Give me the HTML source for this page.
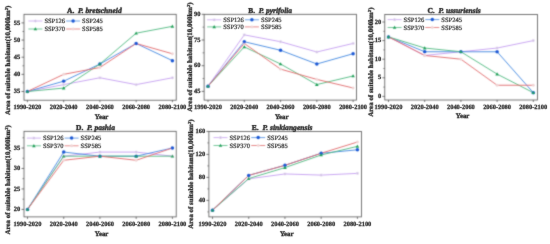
<!DOCTYPE html>
<html><head><meta charset="utf-8"><style>
html,body{margin:0;padding:0;background:#fff;}
svg{display:block;text-rendering:geometricPrecision;}
text{font-family:"Liberation Serif","Times New Roman",serif;fill:#262626;stroke:#262626;stroke-width:0.25px;}
.tk{font-size:6.45px;font-weight:bold;stroke-width:0.25px;}
.lg{font-size:6.5px;stroke-width:0.2px;}
.ti{font-size:7.5px;font-weight:bold;white-space:pre;stroke-width:0.4px;}
.yl{font-size:6.95px;font-weight:bold;stroke-width:0.3px;}
.sup{font-size:4.52px;}
.yr{font-size:6.8px;font-weight:bold;stroke-width:0.35px;}
</style></head><body>
<svg width="550" height="244" viewBox="0 0 550 244">
<defs><filter id="soft" filterUnits="userSpaceOnUse" x="0" y="0" width="550" height="244"><feConvolveMatrix order="3" kernelMatrix="0.0256 0.1088 0.0256 0.1088 0.4624 0.1088 0.0256 0.1088 0.0256" divisor="1" edgeMode="none" preserveAlpha="false"/></filter><filter id="softt" filterUnits="userSpaceOnUse" x="0" y="0" width="550" height="244"><feConvolveMatrix order="3" kernelMatrix="0.0036 0.0528 0.0036 0.0528 0.7744 0.0528 0.0036 0.0528 0.0036" divisor="1" edgeMode="none" preserveAlpha="false"/></filter></defs>
<rect width="550" height="244" fill="#fff"/>
<g filter="url(#soft)">
<polyline points="27.40,91.50 63.65,84.64 99.90,77.78 136.15,84.64 172.40,77.78" fill="none" stroke="#c49ef0" stroke-width="0.9"/>
<polyline points="27.40,91.50 63.65,81.21 99.90,64.06 136.15,43.48 172.40,60.63" fill="none" stroke="#3f86e0" stroke-width="0.9"/>
<polyline points="27.40,91.50 63.65,88.07 99.90,64.06 136.15,33.19 172.40,26.33" fill="none" stroke="#4cb87e" stroke-width="0.9"/>
<polyline points="27.40,91.50 63.65,74.35 99.90,67.49 136.15,43.48 172.40,53.77" fill="none" stroke="#e0686a" stroke-width="0.9"/>
<circle cx="27.40" cy="91.50" r="1.30" fill="#f4f0f8"/><path d="M25.90,91.50H28.90M27.40,90.00V93.00M26.30,90.40L28.50,92.60M26.30,92.60L28.50,90.40" stroke="#c9b4e0" stroke-width="0.5" fill="none"/>
<circle cx="63.65" cy="84.64" r="1.30" fill="#f4f0f8"/><path d="M62.15,84.64H65.15M63.65,83.14V86.14M62.55,83.54L64.75,85.74M62.55,85.74L64.75,83.54" stroke="#c9b4e0" stroke-width="0.5" fill="none"/>
<circle cx="99.90" cy="77.78" r="1.30" fill="#f4f0f8"/><path d="M98.40,77.78H101.40M99.90,76.28V79.28M98.80,76.68L101.00,78.88M98.80,78.88L101.00,76.68" stroke="#c9b4e0" stroke-width="0.5" fill="none"/>
<circle cx="136.15" cy="84.64" r="1.30" fill="#f4f0f8"/><path d="M134.65,84.64H137.65M136.15,83.14V86.14M135.05,83.54L137.25,85.74M135.05,85.74L137.25,83.54" stroke="#c9b4e0" stroke-width="0.5" fill="none"/>
<circle cx="172.40" cy="77.78" r="1.30" fill="#f4f0f8"/><path d="M170.90,77.78H173.90M172.40,76.28V79.28M171.30,76.68L173.50,78.88M171.30,78.88L173.50,76.68" stroke="#c9b4e0" stroke-width="0.5" fill="none"/>
<circle cx="27.40" cy="91.50" r="1.20" fill="#f3d6d6" stroke="#ecd2d2" stroke-width="0.4"/>
<circle cx="63.65" cy="74.35" r="1.20" fill="#f3d6d6" stroke="#ecd2d2" stroke-width="0.4"/>
<circle cx="99.90" cy="67.49" r="1.20" fill="#f3d6d6" stroke="#ecd2d2" stroke-width="0.4"/>
<circle cx="136.15" cy="43.48" r="1.20" fill="#f3d6d6" stroke="#ecd2d2" stroke-width="0.4"/>
<circle cx="172.40" cy="53.77" r="1.20" fill="#f3d6d6" stroke="#ecd2d2" stroke-width="0.4"/>
<circle cx="27.40" cy="91.50" r="1.75" fill="#1a58d4"/>
<circle cx="63.65" cy="81.21" r="1.75" fill="#1a58d4"/>
<circle cx="99.90" cy="64.06" r="1.75" fill="#1a58d4"/>
<circle cx="136.15" cy="43.48" r="1.75" fill="#1a58d4"/>
<circle cx="172.40" cy="60.63" r="1.75" fill="#1a58d4"/>
<path d="M27.40,89.70L29.20,92.85L25.60,92.85Z" fill="#23a05a"/>
<path d="M63.65,86.27L65.45,89.42L61.85,89.42Z" fill="#23a05a"/>
<path d="M99.90,62.26L101.70,65.41L98.10,65.41Z" fill="#23a05a"/>
<path d="M136.15,31.39L137.95,34.54L134.35,34.54Z" fill="#23a05a"/>
<path d="M172.40,24.53L174.20,27.68L170.60,27.68Z" fill="#23a05a"/>
<rect x="24.00" y="14.30" width="152.20" height="85.90" fill="none" stroke="#555" stroke-width="0.8"/>
<line x1="21.50" y1="91.50" x2="24.00" y2="91.50" stroke="#555" stroke-width="0.8"/>
<line x1="21.50" y1="74.35" x2="24.00" y2="74.35" stroke="#555" stroke-width="0.8"/>
<line x1="21.50" y1="57.20" x2="24.00" y2="57.20" stroke="#555" stroke-width="0.8"/>
<line x1="21.50" y1="40.05" x2="24.00" y2="40.05" stroke="#555" stroke-width="0.8"/>
<line x1="21.50" y1="22.90" x2="24.00" y2="22.90" stroke="#555" stroke-width="0.8"/>
<line x1="22.50" y1="82.92" x2="24.00" y2="82.92" stroke="#555" stroke-width="0.7"/>
<line x1="22.50" y1="65.78" x2="24.00" y2="65.78" stroke="#555" stroke-width="0.7"/>
<line x1="22.50" y1="48.63" x2="24.00" y2="48.63" stroke="#555" stroke-width="0.7"/>
<line x1="22.50" y1="31.48" x2="24.00" y2="31.48" stroke="#555" stroke-width="0.7"/>
<line x1="27.40" y1="100.20" x2="27.40" y2="102.20" stroke="#555" stroke-width="0.8"/>
<line x1="63.65" y1="100.20" x2="63.65" y2="102.20" stroke="#555" stroke-width="0.8"/>
<line x1="99.90" y1="100.20" x2="99.90" y2="102.20" stroke="#555" stroke-width="0.8"/>
<line x1="136.15" y1="100.20" x2="136.15" y2="102.20" stroke="#555" stroke-width="0.8"/>
<line x1="172.40" y1="100.20" x2="172.40" y2="102.20" stroke="#555" stroke-width="0.8"/>
<line x1="28.40" y1="21.00" x2="42.40" y2="21.00" stroke="#c49ef0" stroke-width="0.75"/>
<circle cx="35.40" cy="21.00" r="1.30" fill="#f4f0f8"/><path d="M33.90,21.00H36.90M35.40,19.50V22.50M34.30,19.90L36.50,22.10M34.30,22.10L36.50,19.90" stroke="#c9b4e0" stroke-width="0.5" fill="none"/>
<line x1="66.10" y1="21.00" x2="80.10" y2="21.00" stroke="#3f86e0" stroke-width="0.75"/>
<circle cx="73.10" cy="21.00" r="1.75" fill="#1a58d4"/>
<line x1="28.40" y1="29.00" x2="42.40" y2="29.00" stroke="#4cb87e" stroke-width="0.75"/>
<path d="M35.40,27.20L37.20,30.35L33.60,30.35Z" fill="#23a05a"/>
<line x1="66.10" y1="29.00" x2="80.10" y2="29.00" stroke="#e0686a" stroke-width="0.75"/>
<circle cx="73.10" cy="29.00" r="1.20" fill="#f3d6d6" stroke="#ecd2d2" stroke-width="0.4"/>
<polyline points="208.00,86.26 244.28,34.86 280.55,41.71 316.83,51.99 353.10,43.43" fill="none" stroke="#c49ef0" stroke-width="0.9"/>
<polyline points="208.00,86.26 244.28,41.71 280.55,50.28 316.83,63.99 353.10,53.71" fill="none" stroke="#3f86e0" stroke-width="0.9"/>
<polyline points="208.00,86.26 244.28,46.85 280.55,63.99 316.83,84.55 353.10,75.98" fill="none" stroke="#4cb87e" stroke-width="0.9"/>
<polyline points="208.00,86.26 244.28,43.43 280.55,69.13 316.83,79.41 353.10,87.97" fill="none" stroke="#e0686a" stroke-width="0.9"/>
<circle cx="208.00" cy="86.26" r="1.30" fill="#f4f0f8"/><path d="M206.50,86.26H209.50M208.00,84.76V87.76M206.90,85.16L209.10,87.36M206.90,87.36L209.10,85.16" stroke="#c9b4e0" stroke-width="0.5" fill="none"/>
<circle cx="244.28" cy="34.86" r="1.30" fill="#f4f0f8"/><path d="M242.78,34.86H245.78M244.28,33.36V36.36M243.18,33.76L245.38,35.96M243.18,35.96L245.38,33.76" stroke="#c9b4e0" stroke-width="0.5" fill="none"/>
<circle cx="280.55" cy="41.71" r="1.30" fill="#f4f0f8"/><path d="M279.05,41.71H282.05M280.55,40.21V43.21M279.45,40.61L281.65,42.81M279.45,42.81L281.65,40.61" stroke="#c9b4e0" stroke-width="0.5" fill="none"/>
<circle cx="316.83" cy="51.99" r="1.30" fill="#f4f0f8"/><path d="M315.33,51.99H318.33M316.83,50.49V53.49M315.73,50.89L317.93,53.09M315.73,53.09L317.93,50.89" stroke="#c9b4e0" stroke-width="0.5" fill="none"/>
<circle cx="353.10" cy="43.43" r="1.30" fill="#f4f0f8"/><path d="M351.60,43.43H354.60M353.10,41.93V44.93M352.00,42.33L354.20,44.53M352.00,44.53L354.20,42.33" stroke="#c9b4e0" stroke-width="0.5" fill="none"/>
<circle cx="208.00" cy="86.26" r="1.20" fill="#f3d6d6" stroke="#ecd2d2" stroke-width="0.4"/>
<circle cx="244.28" cy="43.43" r="1.20" fill="#f3d6d6" stroke="#ecd2d2" stroke-width="0.4"/>
<circle cx="280.55" cy="69.13" r="1.20" fill="#f3d6d6" stroke="#ecd2d2" stroke-width="0.4"/>
<circle cx="316.83" cy="79.41" r="1.20" fill="#f3d6d6" stroke="#ecd2d2" stroke-width="0.4"/>
<circle cx="353.10" cy="87.97" r="1.20" fill="#f3d6d6" stroke="#ecd2d2" stroke-width="0.4"/>
<circle cx="208.00" cy="86.26" r="1.75" fill="#1a58d4"/>
<circle cx="244.28" cy="41.71" r="1.75" fill="#1a58d4"/>
<circle cx="280.55" cy="50.28" r="1.75" fill="#1a58d4"/>
<circle cx="316.83" cy="63.99" r="1.75" fill="#1a58d4"/>
<circle cx="353.10" cy="53.71" r="1.75" fill="#1a58d4"/>
<path d="M208.00,84.46L209.80,87.61L206.20,87.61Z" fill="#23a05a"/>
<path d="M244.28,45.05L246.08,48.20L242.47,48.20Z" fill="#23a05a"/>
<path d="M280.55,62.19L282.35,65.34L278.75,65.34Z" fill="#23a05a"/>
<path d="M316.83,82.75L318.63,85.90L315.03,85.90Z" fill="#23a05a"/>
<path d="M353.10,74.18L354.90,77.33L351.30,77.33Z" fill="#23a05a"/>
<rect x="204.10" y="14.30" width="152.30" height="85.80" fill="none" stroke="#555" stroke-width="0.8"/>
<line x1="201.60" y1="91.40" x2="204.10" y2="91.40" stroke="#555" stroke-width="0.8"/>
<line x1="201.60" y1="65.70" x2="204.10" y2="65.70" stroke="#555" stroke-width="0.8"/>
<line x1="201.60" y1="40.00" x2="204.10" y2="40.00" stroke="#555" stroke-width="0.8"/>
<line x1="201.60" y1="14.30" x2="204.10" y2="14.30" stroke="#555" stroke-width="0.8"/>
<line x1="202.60" y1="78.55" x2="204.10" y2="78.55" stroke="#555" stroke-width="0.7"/>
<line x1="202.60" y1="52.85" x2="204.10" y2="52.85" stroke="#555" stroke-width="0.7"/>
<line x1="202.60" y1="27.15" x2="204.10" y2="27.15" stroke="#555" stroke-width="0.7"/>
<line x1="208.00" y1="100.10" x2="208.00" y2="102.10" stroke="#555" stroke-width="0.8"/>
<line x1="244.28" y1="100.10" x2="244.28" y2="102.10" stroke="#555" stroke-width="0.8"/>
<line x1="280.55" y1="100.10" x2="280.55" y2="102.10" stroke="#555" stroke-width="0.8"/>
<line x1="316.83" y1="100.10" x2="316.83" y2="102.10" stroke="#555" stroke-width="0.8"/>
<line x1="353.10" y1="100.10" x2="353.10" y2="102.10" stroke="#555" stroke-width="0.8"/>
<line x1="207.20" y1="19.80" x2="221.20" y2="19.80" stroke="#c49ef0" stroke-width="0.75"/>
<circle cx="214.20" cy="19.80" r="1.30" fill="#f4f0f8"/><path d="M212.70,19.80H215.70M214.20,18.30V21.30M213.10,18.70L215.30,20.90M213.10,20.90L215.30,18.70" stroke="#c9b4e0" stroke-width="0.5" fill="none"/>
<line x1="244.90" y1="19.80" x2="258.90" y2="19.80" stroke="#3f86e0" stroke-width="0.75"/>
<circle cx="251.90" cy="19.80" r="1.75" fill="#1a58d4"/>
<line x1="207.20" y1="26.90" x2="221.20" y2="26.90" stroke="#4cb87e" stroke-width="0.75"/>
<path d="M214.20,25.10L216.00,28.25L212.40,28.25Z" fill="#23a05a"/>
<line x1="244.90" y1="26.90" x2="258.90" y2="26.90" stroke="#e0686a" stroke-width="0.75"/>
<circle cx="251.90" cy="26.90" r="1.20" fill="#f3d6d6" stroke="#ecd2d2" stroke-width="0.4"/>
<polyline points="388.50,36.88 424.70,55.48 460.90,51.76 497.10,48.04 533.30,40.60" fill="none" stroke="#c49ef0" stroke-width="0.9"/>
<polyline points="388.50,36.88 424.70,51.76 460.90,51.76 497.10,51.76 533.30,92.68" fill="none" stroke="#3f86e0" stroke-width="0.9"/>
<polyline points="388.50,36.88 424.70,48.04 460.90,51.76 497.10,74.08 533.30,92.68" fill="none" stroke="#4cb87e" stroke-width="0.9"/>
<polyline points="388.50,36.88 424.70,55.48 460.90,59.20 497.10,85.24 533.30,85.24" fill="none" stroke="#e0686a" stroke-width="0.9"/>
<circle cx="388.50" cy="36.88" r="1.30" fill="#f4f0f8"/><path d="M387.00,36.88H390.00M388.50,35.38V38.38M387.40,35.78L389.60,37.98M387.40,37.98L389.60,35.78" stroke="#c9b4e0" stroke-width="0.5" fill="none"/>
<circle cx="424.70" cy="55.48" r="1.30" fill="#f4f0f8"/><path d="M423.20,55.48H426.20M424.70,53.98V56.98M423.60,54.38L425.80,56.58M423.60,56.58L425.80,54.38" stroke="#c9b4e0" stroke-width="0.5" fill="none"/>
<circle cx="460.90" cy="51.76" r="1.30" fill="#f4f0f8"/><path d="M459.40,51.76H462.40M460.90,50.26V53.26M459.80,50.66L462.00,52.86M459.80,52.86L462.00,50.66" stroke="#c9b4e0" stroke-width="0.5" fill="none"/>
<circle cx="497.10" cy="48.04" r="1.30" fill="#f4f0f8"/><path d="M495.60,48.04H498.60M497.10,46.54V49.54M496.00,46.94L498.20,49.14M496.00,49.14L498.20,46.94" stroke="#c9b4e0" stroke-width="0.5" fill="none"/>
<circle cx="533.30" cy="40.60" r="1.30" fill="#f4f0f8"/><path d="M531.80,40.60H534.80M533.30,39.10V42.10M532.20,39.50L534.40,41.70M532.20,41.70L534.40,39.50" stroke="#c9b4e0" stroke-width="0.5" fill="none"/>
<circle cx="388.50" cy="36.88" r="1.20" fill="#f3d6d6" stroke="#ecd2d2" stroke-width="0.4"/>
<circle cx="424.70" cy="55.48" r="1.20" fill="#f3d6d6" stroke="#ecd2d2" stroke-width="0.4"/>
<circle cx="460.90" cy="59.20" r="1.20" fill="#f3d6d6" stroke="#ecd2d2" stroke-width="0.4"/>
<circle cx="497.10" cy="85.24" r="1.20" fill="#f3d6d6" stroke="#ecd2d2" stroke-width="0.4"/>
<circle cx="533.30" cy="85.24" r="1.20" fill="#f3d6d6" stroke="#ecd2d2" stroke-width="0.4"/>
<circle cx="388.50" cy="36.88" r="1.75" fill="#1a58d4"/>
<circle cx="424.70" cy="51.76" r="1.75" fill="#1a58d4"/>
<circle cx="460.90" cy="51.76" r="1.75" fill="#1a58d4"/>
<circle cx="497.10" cy="51.76" r="1.75" fill="#1a58d4"/>
<circle cx="533.30" cy="92.68" r="1.75" fill="#1a58d4"/>
<path d="M388.50,35.08L390.30,38.23L386.70,38.23Z" fill="#23a05a"/>
<path d="M424.70,46.24L426.50,49.39L422.90,49.39Z" fill="#23a05a"/>
<path d="M460.90,49.96L462.70,53.11L459.10,53.11Z" fill="#23a05a"/>
<path d="M497.10,72.28L498.90,75.43L495.30,75.43Z" fill="#23a05a"/>
<path d="M533.30,90.88L535.10,94.03L531.50,94.03Z" fill="#23a05a"/>
<rect x="384.80" y="14.50" width="152.60" height="85.50" fill="none" stroke="#555" stroke-width="0.8"/>
<line x1="382.30" y1="96.40" x2="384.80" y2="96.40" stroke="#555" stroke-width="0.8"/>
<line x1="382.30" y1="77.80" x2="384.80" y2="77.80" stroke="#555" stroke-width="0.8"/>
<line x1="382.30" y1="59.20" x2="384.80" y2="59.20" stroke="#555" stroke-width="0.8"/>
<line x1="382.30" y1="40.60" x2="384.80" y2="40.60" stroke="#555" stroke-width="0.8"/>
<line x1="382.30" y1="22.00" x2="384.80" y2="22.00" stroke="#555" stroke-width="0.8"/>
<line x1="383.30" y1="87.10" x2="384.80" y2="87.10" stroke="#555" stroke-width="0.7"/>
<line x1="383.30" y1="68.50" x2="384.80" y2="68.50" stroke="#555" stroke-width="0.7"/>
<line x1="383.30" y1="49.90" x2="384.80" y2="49.90" stroke="#555" stroke-width="0.7"/>
<line x1="383.30" y1="31.30" x2="384.80" y2="31.30" stroke="#555" stroke-width="0.7"/>
<line x1="388.50" y1="100.00" x2="388.50" y2="102.00" stroke="#555" stroke-width="0.8"/>
<line x1="424.70" y1="100.00" x2="424.70" y2="102.00" stroke="#555" stroke-width="0.8"/>
<line x1="460.90" y1="100.00" x2="460.90" y2="102.00" stroke="#555" stroke-width="0.8"/>
<line x1="497.10" y1="100.00" x2="497.10" y2="102.00" stroke="#555" stroke-width="0.8"/>
<line x1="533.30" y1="100.00" x2="533.30" y2="102.00" stroke="#555" stroke-width="0.8"/>
<line x1="387.60" y1="19.60" x2="401.60" y2="19.60" stroke="#c49ef0" stroke-width="0.75"/>
<circle cx="394.60" cy="19.60" r="1.30" fill="#f4f0f8"/><path d="M393.10,19.60H396.10M394.60,18.10V21.10M393.50,18.50L395.70,20.70M393.50,20.70L395.70,18.50" stroke="#c9b4e0" stroke-width="0.5" fill="none"/>
<line x1="425.30" y1="19.60" x2="439.30" y2="19.60" stroke="#3f86e0" stroke-width="0.75"/>
<circle cx="432.30" cy="19.60" r="1.75" fill="#1a58d4"/>
<line x1="387.60" y1="27.50" x2="401.60" y2="27.50" stroke="#4cb87e" stroke-width="0.75"/>
<path d="M394.60,25.70L396.40,28.85L392.80,28.85Z" fill="#23a05a"/>
<line x1="425.30" y1="27.50" x2="439.30" y2="27.50" stroke="#e0686a" stroke-width="0.75"/>
<circle cx="432.30" cy="27.50" r="1.20" fill="#f3d6d6" stroke="#ecd2d2" stroke-width="0.4"/>
<polyline points="27.50,209.40 63.73,156.19 99.95,152.09 136.18,152.09 172.40,156.19" fill="none" stroke="#c49ef0" stroke-width="0.9"/>
<polyline points="27.50,209.40 63.73,152.09 99.95,156.19 136.18,156.19 172.40,148.00" fill="none" stroke="#3f86e0" stroke-width="0.9"/>
<polyline points="27.50,209.40 63.73,156.19 99.95,156.19 136.18,156.19 172.40,156.19" fill="none" stroke="#4cb87e" stroke-width="0.9"/>
<polyline points="27.50,209.40 63.73,160.28 99.95,156.19 136.18,160.28 172.40,148.00" fill="none" stroke="#e0686a" stroke-width="0.9"/>
<circle cx="27.50" cy="209.40" r="1.30" fill="#f4f0f8"/><path d="M26.00,209.40H29.00M27.50,207.90V210.90M26.40,208.30L28.60,210.50M26.40,210.50L28.60,208.30" stroke="#c9b4e0" stroke-width="0.5" fill="none"/>
<circle cx="63.73" cy="156.19" r="1.30" fill="#f4f0f8"/><path d="M62.23,156.19H65.22M63.73,154.69V157.69M62.62,155.09L64.83,157.29M62.62,157.29L64.83,155.09" stroke="#c9b4e0" stroke-width="0.5" fill="none"/>
<circle cx="99.95" cy="152.09" r="1.30" fill="#f4f0f8"/><path d="M98.45,152.09H101.45M99.95,150.59V153.59M98.85,150.99L101.05,153.19M98.85,153.19L101.05,150.99" stroke="#c9b4e0" stroke-width="0.5" fill="none"/>
<circle cx="136.18" cy="152.09" r="1.30" fill="#f4f0f8"/><path d="M134.68,152.09H137.68M136.18,150.59V153.59M135.08,150.99L137.28,153.19M135.08,153.19L137.28,150.99" stroke="#c9b4e0" stroke-width="0.5" fill="none"/>
<circle cx="172.40" cy="156.19" r="1.30" fill="#f4f0f8"/><path d="M170.90,156.19H173.90M172.40,154.69V157.69M171.30,155.09L173.50,157.29M171.30,157.29L173.50,155.09" stroke="#c9b4e0" stroke-width="0.5" fill="none"/>
<circle cx="27.50" cy="209.40" r="1.20" fill="#f3d6d6" stroke="#ecd2d2" stroke-width="0.4"/>
<circle cx="63.73" cy="160.28" r="1.20" fill="#f3d6d6" stroke="#ecd2d2" stroke-width="0.4"/>
<circle cx="99.95" cy="156.19" r="1.20" fill="#f3d6d6" stroke="#ecd2d2" stroke-width="0.4"/>
<circle cx="136.18" cy="160.28" r="1.20" fill="#f3d6d6" stroke="#ecd2d2" stroke-width="0.4"/>
<circle cx="172.40" cy="148.00" r="1.20" fill="#f3d6d6" stroke="#ecd2d2" stroke-width="0.4"/>
<circle cx="27.50" cy="209.40" r="1.75" fill="#1a58d4"/>
<circle cx="63.73" cy="152.09" r="1.75" fill="#1a58d4"/>
<circle cx="99.95" cy="156.19" r="1.75" fill="#1a58d4"/>
<circle cx="136.18" cy="156.19" r="1.75" fill="#1a58d4"/>
<circle cx="172.40" cy="148.00" r="1.75" fill="#1a58d4"/>
<path d="M27.50,207.60L29.30,210.75L25.70,210.75Z" fill="#23a05a"/>
<path d="M63.73,154.39L65.53,157.54L61.93,157.54Z" fill="#23a05a"/>
<path d="M99.95,154.39L101.75,157.54L98.15,157.54Z" fill="#23a05a"/>
<path d="M136.18,154.39L137.98,157.54L134.38,157.54Z" fill="#23a05a"/>
<path d="M172.40,154.39L174.20,157.54L170.60,157.54Z" fill="#23a05a"/>
<rect x="24.00" y="131.30" width="152.20" height="85.60" fill="none" stroke="#555" stroke-width="0.8"/>
<line x1="21.50" y1="209.40" x2="24.00" y2="209.40" stroke="#555" stroke-width="0.8"/>
<line x1="21.50" y1="188.93" x2="24.00" y2="188.93" stroke="#555" stroke-width="0.8"/>
<line x1="21.50" y1="168.47" x2="24.00" y2="168.47" stroke="#555" stroke-width="0.8"/>
<line x1="21.50" y1="148.00" x2="24.00" y2="148.00" stroke="#555" stroke-width="0.8"/>
<line x1="22.50" y1="199.17" x2="24.00" y2="199.17" stroke="#555" stroke-width="0.7"/>
<line x1="22.50" y1="178.70" x2="24.00" y2="178.70" stroke="#555" stroke-width="0.7"/>
<line x1="22.50" y1="158.23" x2="24.00" y2="158.23" stroke="#555" stroke-width="0.7"/>
<line x1="22.50" y1="137.77" x2="24.00" y2="137.77" stroke="#555" stroke-width="0.7"/>
<line x1="27.50" y1="216.90" x2="27.50" y2="218.90" stroke="#555" stroke-width="0.8"/>
<line x1="63.73" y1="216.90" x2="63.73" y2="218.90" stroke="#555" stroke-width="0.8"/>
<line x1="99.95" y1="216.90" x2="99.95" y2="218.90" stroke="#555" stroke-width="0.8"/>
<line x1="136.18" y1="216.90" x2="136.18" y2="218.90" stroke="#555" stroke-width="0.8"/>
<line x1="172.40" y1="216.90" x2="172.40" y2="218.90" stroke="#555" stroke-width="0.8"/>
<line x1="26.90" y1="138.10" x2="40.90" y2="138.10" stroke="#c49ef0" stroke-width="0.75"/>
<circle cx="33.90" cy="138.10" r="1.30" fill="#f4f0f8"/><path d="M32.40,138.10H35.40M33.90,136.60V139.60M32.80,137.00L35.00,139.20M32.80,139.20L35.00,137.00" stroke="#c9b4e0" stroke-width="0.5" fill="none"/>
<line x1="64.60" y1="138.10" x2="78.60" y2="138.10" stroke="#3f86e0" stroke-width="0.75"/>
<circle cx="71.60" cy="138.10" r="1.75" fill="#1a58d4"/>
<line x1="26.90" y1="145.80" x2="40.90" y2="145.80" stroke="#4cb87e" stroke-width="0.75"/>
<path d="M33.90,144.00L35.70,147.15L32.10,147.15Z" fill="#23a05a"/>
<line x1="64.60" y1="145.80" x2="78.60" y2="145.80" stroke="#e0686a" stroke-width="0.75"/>
<circle cx="71.60" cy="145.80" r="1.20" fill="#f3d6d6" stroke="#ecd2d2" stroke-width="0.4"/>
<polyline points="212.50,210.18 248.72,178.84 284.95,173.95 321.17,175.10 357.40,173.38" fill="none" stroke="#c49ef0" stroke-width="0.9"/>
<polyline points="212.50,210.18 248.72,175.39 284.95,165.32 321.17,153.25 357.40,149.80" fill="none" stroke="#3f86e0" stroke-width="0.9"/>
<polyline points="212.50,210.18 248.72,178.55 284.95,167.62 321.17,154.98 357.40,146.35" fill="none" stroke="#4cb87e" stroke-width="0.9"/>
<polyline points="212.50,210.18 248.72,175.39 284.95,165.32 321.17,153.25 357.40,142.04" fill="none" stroke="#e0686a" stroke-width="0.9"/>
<circle cx="212.50" cy="210.18" r="1.30" fill="#f4f0f8"/><path d="M211.00,210.18H214.00M212.50,208.68V211.68M211.40,209.08L213.60,211.28M211.40,211.28L213.60,209.08" stroke="#c9b4e0" stroke-width="0.5" fill="none"/>
<circle cx="248.72" cy="178.84" r="1.30" fill="#f4f0f8"/><path d="M247.22,178.84H250.22M248.72,177.34V180.34M247.62,177.74L249.82,179.94M247.62,179.94L249.82,177.74" stroke="#c9b4e0" stroke-width="0.5" fill="none"/>
<circle cx="284.95" cy="173.95" r="1.30" fill="#f4f0f8"/><path d="M283.45,173.95H286.45M284.95,172.45V175.45M283.85,172.85L286.05,175.05M283.85,175.05L286.05,172.85" stroke="#c9b4e0" stroke-width="0.5" fill="none"/>
<circle cx="321.17" cy="175.10" r="1.30" fill="#f4f0f8"/><path d="M319.67,175.10H322.67M321.17,173.60V176.60M320.07,174.00L322.27,176.20M320.07,176.20L322.27,174.00" stroke="#c9b4e0" stroke-width="0.5" fill="none"/>
<circle cx="357.40" cy="173.38" r="1.30" fill="#f4f0f8"/><path d="M355.90,173.38H358.90M357.40,171.88V174.88M356.30,172.28L358.50,174.47M356.30,174.47L358.50,172.28" stroke="#c9b4e0" stroke-width="0.5" fill="none"/>
<circle cx="212.50" cy="210.18" r="1.20" fill="#f3d6d6" stroke="#ecd2d2" stroke-width="0.4"/>
<circle cx="248.72" cy="175.39" r="1.20" fill="#f3d6d6" stroke="#ecd2d2" stroke-width="0.4"/>
<circle cx="284.95" cy="165.32" r="1.20" fill="#f3d6d6" stroke="#ecd2d2" stroke-width="0.4"/>
<circle cx="321.17" cy="153.25" r="1.20" fill="#f3d6d6" stroke="#ecd2d2" stroke-width="0.4"/>
<circle cx="357.40" cy="142.04" r="1.20" fill="#f3d6d6" stroke="#ecd2d2" stroke-width="0.4"/>
<circle cx="212.50" cy="210.18" r="1.75" fill="#1a58d4"/>
<circle cx="248.72" cy="175.39" r="1.75" fill="#1a58d4"/>
<circle cx="284.95" cy="165.32" r="1.75" fill="#1a58d4"/>
<circle cx="321.17" cy="153.25" r="1.75" fill="#1a58d4"/>
<circle cx="357.40" cy="149.80" r="1.75" fill="#1a58d4"/>
<path d="M212.50,208.38L214.30,211.53L210.70,211.53Z" fill="#23a05a"/>
<path d="M248.72,176.75L250.53,179.90L246.92,179.90Z" fill="#23a05a"/>
<path d="M284.95,165.82L286.75,168.97L283.15,168.97Z" fill="#23a05a"/>
<path d="M321.17,153.18L322.97,156.33L319.37,156.33Z" fill="#23a05a"/>
<path d="M357.40,144.55L359.20,147.70L355.60,147.70Z" fill="#23a05a"/>
<rect x="208.90" y="131.40" width="152.70" height="85.50" fill="none" stroke="#555" stroke-width="0.8"/>
<line x1="206.40" y1="200.40" x2="208.90" y2="200.40" stroke="#555" stroke-width="0.8"/>
<line x1="206.40" y1="177.40" x2="208.90" y2="177.40" stroke="#555" stroke-width="0.8"/>
<line x1="206.40" y1="154.40" x2="208.90" y2="154.40" stroke="#555" stroke-width="0.8"/>
<line x1="206.40" y1="131.40" x2="208.90" y2="131.40" stroke="#555" stroke-width="0.8"/>
<line x1="207.40" y1="211.90" x2="208.90" y2="211.90" stroke="#555" stroke-width="0.7"/>
<line x1="207.40" y1="188.90" x2="208.90" y2="188.90" stroke="#555" stroke-width="0.7"/>
<line x1="207.40" y1="165.90" x2="208.90" y2="165.90" stroke="#555" stroke-width="0.7"/>
<line x1="207.40" y1="142.90" x2="208.90" y2="142.90" stroke="#555" stroke-width="0.7"/>
<line x1="212.50" y1="216.90" x2="212.50" y2="218.90" stroke="#555" stroke-width="0.8"/>
<line x1="248.72" y1="216.90" x2="248.72" y2="218.90" stroke="#555" stroke-width="0.8"/>
<line x1="284.95" y1="216.90" x2="284.95" y2="218.90" stroke="#555" stroke-width="0.8"/>
<line x1="321.17" y1="216.90" x2="321.17" y2="218.90" stroke="#555" stroke-width="0.8"/>
<line x1="357.40" y1="216.90" x2="357.40" y2="218.90" stroke="#555" stroke-width="0.8"/>
<line x1="213.50" y1="137.60" x2="227.50" y2="137.60" stroke="#c49ef0" stroke-width="0.75"/>
<circle cx="220.50" cy="137.60" r="1.30" fill="#f4f0f8"/><path d="M219.00,137.60H222.00M220.50,136.10V139.10M219.40,136.50L221.60,138.70M219.40,138.70L221.60,136.50" stroke="#c9b4e0" stroke-width="0.5" fill="none"/>
<line x1="251.20" y1="137.60" x2="265.20" y2="137.60" stroke="#3f86e0" stroke-width="0.75"/>
<circle cx="258.20" cy="137.60" r="1.75" fill="#1a58d4"/>
<line x1="213.50" y1="145.50" x2="227.50" y2="145.50" stroke="#4cb87e" stroke-width="0.75"/>
<path d="M220.50,143.70L222.30,146.85L218.70,146.85Z" fill="#23a05a"/>
<line x1="251.20" y1="145.50" x2="265.20" y2="145.50" stroke="#e0686a" stroke-width="0.75"/>
<circle cx="258.20" cy="145.50" r="1.20" fill="#f3d6d6" stroke="#ecd2d2" stroke-width="0.4"/>
</g>
<g filter="url(#softt)">
<text x="20.30" y="93.10" class="tk" text-anchor="end">35</text>
<text x="20.30" y="75.95" class="tk" text-anchor="end">40</text>
<text x="20.30" y="58.80" class="tk" text-anchor="end">45</text>
<text x="20.30" y="41.65" class="tk" text-anchor="end">50</text>
<text x="20.30" y="24.50" class="tk" text-anchor="end">55</text>
<text x="27.40" y="109.40" class="tk" text-anchor="middle">1990-2020</text>
<text x="63.65" y="109.40" class="tk" text-anchor="middle">2020-2040</text>
<text x="99.90" y="109.40" class="tk" text-anchor="middle">2040-2060</text>
<text x="136.15" y="109.40" class="tk" text-anchor="middle">2060-2080</text>
<text x="172.40" y="109.40" class="tk" text-anchor="middle">2080-2100</text>
<text x="101.60" y="118.60" class="yr" text-anchor="middle">Year</text>
<text transform="translate(9.90,60.40) rotate(-90)" class="yl" text-anchor="middle">Area of suitable habitant(10,000km<tspan class="sup" dy="-2">2</tspan><tspan dy="2">)</tspan></text>
<text x="67.00" y="12.50" class="ti" textLength="54.70" lengthAdjust="spacingAndGlyphs">A.  <tspan font-style="italic">P. bretschneid</tspan></text>
<text x="44.40" y="23.20" class="lg">SSP126</text>
<text x="82.10" y="23.20" class="lg">SSP245</text>
<text x="44.40" y="31.20" class="lg">SSP370</text>
<text x="82.10" y="31.20" class="lg">SSP585</text>
<text x="200.40" y="93.00" class="tk" text-anchor="end">45</text>
<text x="200.40" y="67.30" class="tk" text-anchor="end">60</text>
<text x="200.40" y="41.60" class="tk" text-anchor="end">75</text>
<text x="200.40" y="15.90" class="tk" text-anchor="end">90</text>
<text x="208.00" y="109.30" class="tk" text-anchor="middle">1990-2020</text>
<text x="244.28" y="109.30" class="tk" text-anchor="middle">2020-2040</text>
<text x="280.55" y="109.30" class="tk" text-anchor="middle">2040-2060</text>
<text x="316.83" y="109.30" class="tk" text-anchor="middle">2060-2080</text>
<text x="353.10" y="109.30" class="tk" text-anchor="middle">2080-2100</text>
<text x="281.75" y="118.50" class="yr" text-anchor="middle">Year</text>
<text transform="translate(192.30,57.00) rotate(-90)" class="yl" text-anchor="middle">Area of suitable habitant(10,000km<tspan class="sup" dy="-2">2</tspan><tspan dy="2">)</tspan></text>
<text x="248.20" y="12.50" class="ti" textLength="43.90" lengthAdjust="spacingAndGlyphs">B.  <tspan font-style="italic">P. pyrifolia</tspan></text>
<text x="223.20" y="22.00" class="lg">SSP126</text>
<text x="260.90" y="22.00" class="lg">SSP245</text>
<text x="223.20" y="29.10" class="lg">SSP370</text>
<text x="260.90" y="29.10" class="lg">SSP585</text>
<text x="381.10" y="98.00" class="tk" text-anchor="end">0</text>
<text x="381.10" y="79.40" class="tk" text-anchor="end">5</text>
<text x="381.10" y="60.80" class="tk" text-anchor="end">10</text>
<text x="381.10" y="42.20" class="tk" text-anchor="end">15</text>
<text x="381.10" y="23.60" class="tk" text-anchor="end">20</text>
<text x="388.50" y="109.20" class="tk" text-anchor="middle">1990-2020</text>
<text x="424.70" y="109.20" class="tk" text-anchor="middle">2020-2040</text>
<text x="460.90" y="109.20" class="tk" text-anchor="middle">2040-2060</text>
<text x="497.10" y="109.20" class="tk" text-anchor="middle">2060-2080</text>
<text x="533.30" y="109.20" class="tk" text-anchor="middle">2080-2100</text>
<text x="462.60" y="118.40" class="yr" text-anchor="middle">Year</text>
<text transform="translate(373.00,62.20) rotate(-90)" class="yl" text-anchor="middle">Area of suitable habitant(10,000km<tspan class="sup" dy="-2">2</tspan><tspan dy="2">)</tspan></text>
<text x="427.40" y="12.70" class="ti" textLength="53.40" lengthAdjust="spacingAndGlyphs">C.  <tspan font-style="italic">P. ussuriensis</tspan></text>
<text x="403.60" y="21.80" class="lg">SSP126</text>
<text x="441.30" y="21.80" class="lg">SSP245</text>
<text x="403.60" y="29.70" class="lg">SSP370</text>
<text x="441.30" y="29.70" class="lg">SSP585</text>
<text x="20.30" y="211.00" class="tk" text-anchor="end">20</text>
<text x="20.30" y="190.53" class="tk" text-anchor="end">25</text>
<text x="20.30" y="170.07" class="tk" text-anchor="end">30</text>
<text x="20.30" y="149.60" class="tk" text-anchor="end">35</text>
<text x="27.50" y="226.10" class="tk" text-anchor="middle">1990-2020</text>
<text x="63.73" y="226.10" class="tk" text-anchor="middle">2020-2040</text>
<text x="99.95" y="226.10" class="tk" text-anchor="middle">2040-2060</text>
<text x="136.18" y="226.10" class="tk" text-anchor="middle">2060-2080</text>
<text x="172.40" y="226.10" class="tk" text-anchor="middle">2080-2100</text>
<text x="101.60" y="235.90" class="yr" text-anchor="middle">Year</text>
<text transform="translate(9.90,179.90) rotate(-90)" class="yl" text-anchor="middle">Area of suitable habitant(10,000km<tspan class="sup" dy="-2">2</tspan><tspan dy="2">)</tspan></text>
<text x="76.00" y="129.50" class="ti" textLength="38.90" lengthAdjust="spacingAndGlyphs">D.  <tspan font-style="italic">P. pashia</tspan></text>
<text x="42.90" y="140.30" class="lg">SSP126</text>
<text x="80.60" y="140.30" class="lg">SSP245</text>
<text x="42.90" y="148.00" class="lg">SSP370</text>
<text x="80.60" y="148.00" class="lg">SSP585</text>
<text x="205.20" y="202.00" class="tk" text-anchor="end">40</text>
<text x="205.20" y="179.00" class="tk" text-anchor="end">80</text>
<text x="205.20" y="156.00" class="tk" text-anchor="end">120</text>
<text x="205.20" y="133.00" class="tk" text-anchor="end">160</text>
<text x="212.50" y="226.10" class="tk" text-anchor="middle">1990-2020</text>
<text x="248.72" y="226.10" class="tk" text-anchor="middle">2020-2040</text>
<text x="284.95" y="226.10" class="tk" text-anchor="middle">2040-2060</text>
<text x="321.17" y="226.10" class="tk" text-anchor="middle">2060-2080</text>
<text x="357.40" y="226.10" class="tk" text-anchor="middle">2080-2100</text>
<text x="286.75" y="235.90" class="yr" text-anchor="middle">Year</text>
<text transform="translate(193.00,174.00) rotate(-90)" class="yl" text-anchor="middle">Area of suitable habitant(10,000km<tspan class="sup" dy="-2">2</tspan><tspan dy="2">)</tspan></text>
<text x="251.80" y="129.60" class="ti" textLength="60.70" lengthAdjust="spacingAndGlyphs">E.  <tspan font-style="italic">P. sinkiangensis</tspan></text>
<text x="229.50" y="139.80" class="lg">SSP126</text>
<text x="267.20" y="139.80" class="lg">SSP245</text>
<text x="229.50" y="147.70" class="lg">SSP370</text>
<text x="267.20" y="147.70" class="lg">SSP585</text>
</g>
</svg>
</body></html>
